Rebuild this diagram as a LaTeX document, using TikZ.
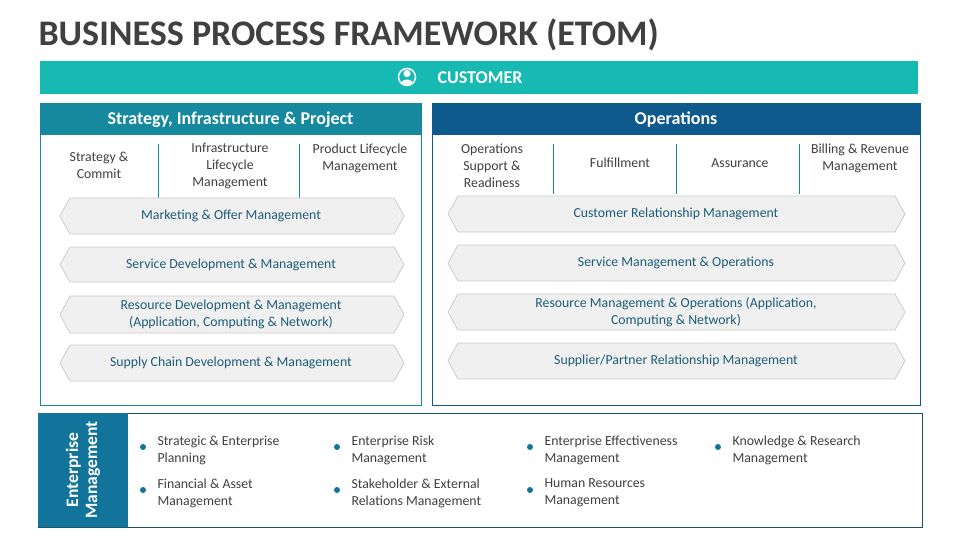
\documentclass[tikz,border=0pt]{standalone}
\usepackage{fontspec}
\setmainfont{Carlito}
\begin{document}
\begin{tikzpicture}[x=1pt,y=-1pt,
  coltxt/.style={text=black!75,font=\fontsize{13.8}{17}\selectfont,align=center},
  bartxt/.style={text=barblue,font=\fontsize{13.8}{17}\selectfont,align=center},
  bul/.style={circle,fill=dotc,inner sep=0pt,minimum size=6pt},
  bultxt/.style={text=black!75,font=\fontsize{13.8}{17}\selectfont,align=left,anchor=west},
  hdr/.style={text=white,font=\bfseries\fontsize{18}{21}\selectfont},
  hexa/.style={fill=black!6,draw=black!20,line width=0.8pt}]
\definecolor{teal1}{HTML}{17BAB2}
\definecolor{teal2}{HTML}{16899E}
\definecolor{navy}{HTML}{0F5A8C}
\definecolor{entb}{HTML}{12749A}
\definecolor{barblue}{HTML}{1D5D78}
\definecolor{dotc}{HTML}{13749A}
\definecolor{edge}{HTML}{1B5468}
\useasboundingbox (0,0) rectangle (960,540);
\fill[white] (0,0) rectangle (960,540);
\node[anchor=west,text=black!75,font=\bfseries\fontsize{36}{40}\selectfont] (title) at (35,35) {BUSINESS PROCESS FRAMEWORK (ETOM)};
% customer
\fill[teal1] (40,61) rectangle (918,94);
\node[circle,draw=white,line width=1.5pt,minimum size=17pt,inner sep=0pt] (icon) at (407,77) {};
\fill[white] (407,73.5) circle (3.6);
\begin{scope}\clip (407,77) circle (8);
\fill[white] (407,86) ellipse (7 and 6.5);\end{scope}
\node[hdr] (cust) at (480,78) {CUSTOMER};
% left panel
\draw[teal2,line width=1pt,fill=white] (40,104) rectangle (421,405);
\fill[teal2] (40,104) rectangle (421,135);
\node[hdr] (sip) at (230.5,120) {Strategy, Infrastructure \& Project};
\draw[teal2,line width=1pt] (158,144) -- (158,198) (299,144) -- (299,198);
\node[coltxt] (c1) at (99,165) {Strategy \&\\Commit};
\node[coltxt] (c2) at (230,166) {Infrastructure\\Lifecycle\\Management};
\node[coltxt] (c3) at (360,158) {Product Lifecycle\\Management};
\foreach \a/\b/\t [count=\i] in {198/234/{Marketing \& Offer Management},247/282/{Service Development \& Management},296/333/{Resource Development \& Management\\(Application, Computing \& Network)},345/381/{Supply Chain Development \& Management}}{
  \draw[hexa] (60,{(\a+\b)/2}) -- (70,\a) -- (394,\a) -- (404,{(\a+\b)/2}) -- (394,\b) -- (70,\b) -- cycle;
  \node[bartxt] (l\i) at (231,{(\a+\b)/2}) {\t};
}
% right panel
\draw[navy,line width=1pt,fill=white] (432,104) rectangle (920,405);
\fill[navy] (432,104) rectangle (920,135);
\node[hdr] (ops) at (676,120) {Operations};
\draw[teal2,line width=1pt] (553,144) -- (553,194) (676,144) -- (676,194) (799,144) -- (799,194);
\node[coltxt] (r1) at (492,166) {Operations\\Support \&\\Readiness};
\node[coltxt] (r2) at (620,163) {Fulfillment};
\node[coltxt] (r3) at (740,163) {Assurance};
\node[coltxt] (r4) at (860,158) {Billing \& Revenue\\Management};
\foreach \a/\b/\t [count=\i] in {196/232/{Customer Relationship Management},245/281/{Service Management \& Operations},294/330/{Resource Management \& Operations (Application,\\Computing \& Network)},343/379/{Supplier/Partner Relationship Management}}{
  \draw[hexa] (448,{(\a+\b)/2}) -- (458,\a) -- (895,\a) -- (905,{(\a+\b)/2}) -- (895,\b) -- (458,\b) -- cycle;
  \node[bartxt] (q\i) at (676,{(\a+\b)/2}) {\t};
}
% enterprise
\draw[edge,line width=1pt] (38,413) rectangle (922,527);
\fill[entb] (38,413) rectangle (128,527);
\node[rotate=90,text=white,align=center,font=\bfseries\fontsize{17.5}{19}\selectfont] (ent) at (83,470) {Enterprise\\Management};
\foreach \x/\y/\t [count=\i] in {143/447/{Strategic \& Enterprise\\Planning},337/447/{Enterprise Risk\\Management},530/447/{Enterprise Effectiveness\\Management},718/447/{Knowledge \& Research\\Management},143/490/{Financial \& Asset\\Management},337/490/{Stakeholder \& External\\Relations Management},530/490/{Human Resources\\Management}}{
  \node[bul] (d\i) at (\x,\y) {};
  \node[bultxt] (e\i) at (\x+11,\y+3) {\t};
}
\end{tikzpicture}
\end{document}
